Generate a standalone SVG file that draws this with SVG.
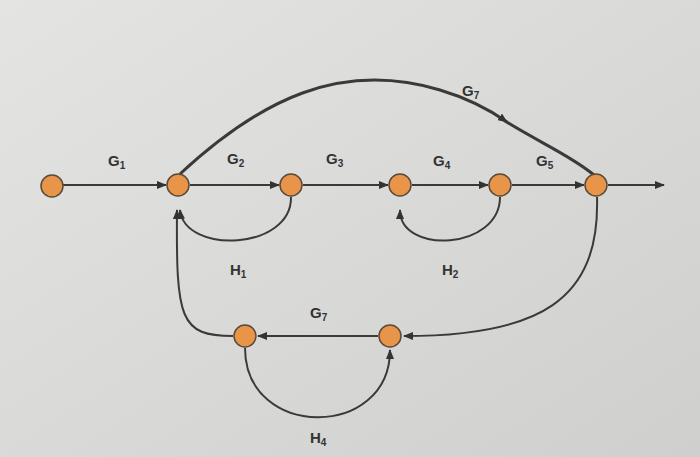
<svg xmlns="http://www.w3.org/2000/svg" width="700" height="457" viewBox="0 0 700 457">
<defs>
<linearGradient id="bg" x1="0" y1="0" x2="1" y2="1"><stop offset="0" stop-color="#e4e4e2"/><stop offset="1" stop-color="#cfcfcd"/></linearGradient>
<marker id="ah" markerWidth="10" markerHeight="8" refX="9" refY="4" orient="auto" markerUnits="userSpaceOnUse"><path d="M0,0 L10,4 L0,8 Z" fill="#333"/></marker>
</defs>
<style>
.e{fill:none;stroke:#3a3a3a;stroke-width:2}
.n{fill:#e8954a;stroke:#5a4a3a;stroke-width:1.5}
.t{font-family:"Liberation Sans",Arial,sans-serif;font-weight:bold;font-size:15px;fill:#333}
.s{font-size:10px}
</style>
<rect width="700" height="457" fill="url(#bg)"/>
<g id="connectors">
<path class="e" d="M63,185 L166,185" marker-end="url(#ah)"/>
<path class="e" d="M190,185 L279,185" marker-end="url(#ah)"/>
<path class="e" d="M303,185 L388,185" marker-end="url(#ah)"/>
<path class="e" d="M412,185 L488,185" marker-end="url(#ah)"/>
<path class="e" d="M512,185 L584,185" marker-end="url(#ah)"/>
<path class="e" d="M608,185 L664,185" marker-end="url(#ah)"/>
<path class="e" style="stroke-width:3" d="M180,174 C260,100 340,60 440,90 C470,99 490,110 507,122" marker-end="url(#ah)"/>
<path class="e" style="stroke-width:3" d="M505,121 C540,143 570,155 594,175"/>
<path class="e" d="M291,197 C292,250 185,255 180,210" marker-end="url(#ah)"/>
<path class="e" d="M500,197 C500,250 400,255 400,210" marker-end="url(#ah)"/>
<path class="e" d="M597,197 C600,300 540,336 404,336" marker-end="url(#ah)"/>
<path class="e" d="M378,336 L258,336" marker-end="url(#ah)"/>
<path class="e" d="M233,336 C180,336 176,320 177,210" marker-end="url(#ah)"/>
<path class="e" d="M245,348 C245,440 390,440 390,350" marker-end="url(#ah)"/>
</g>
<g id="n1"><circle class="n" cx="52" cy="186" r="11"/></g>
<g id="n2"><circle class="n" cx="178" cy="185" r="11"/></g>
<g id="n3"><circle class="n" cx="291" cy="185" r="11"/></g>
<g id="n4"><circle class="n" cx="400" cy="185" r="11"/></g>
<g id="n5"><circle class="n" cx="500" cy="185" r="11"/></g>
<g id="n6"><circle class="n" cx="596" cy="185" r="11"/></g>
<g id="n7"><circle class="n" cx="245" cy="336" r="11"/></g>
<g id="n8"><circle class="n" cx="390" cy="336" r="11"/></g>
<g id="labels">
<text class="t" x="108" y="166">G<tspan class="s" dy="3">1</tspan></text>
<text class="t" x="227" y="164">G<tspan class="s" dy="3">2</tspan></text>
<text class="t" x="326" y="164">G<tspan class="s" dy="3">3</tspan></text>
<text class="t" x="433" y="166">G<tspan class="s" dy="3">4</tspan></text>
<text class="t" x="536" y="166">G<tspan class="s" dy="3">5</tspan></text>
<text class="t" x="462" y="96">G<tspan class="s" dy="3">7</tspan></text>
<text class="t" x="230" y="275">H<tspan class="s" dy="3">1</tspan></text>
<text class="t" x="442" y="275">H<tspan class="s" dy="3">2</tspan></text>
<text class="t" x="310" y="318">G<tspan class="s" dy="3">7</tspan></text>
<text class="t" x="310" y="443">H<tspan class="s" dy="3">4</tspan></text>
</g>
</svg>
